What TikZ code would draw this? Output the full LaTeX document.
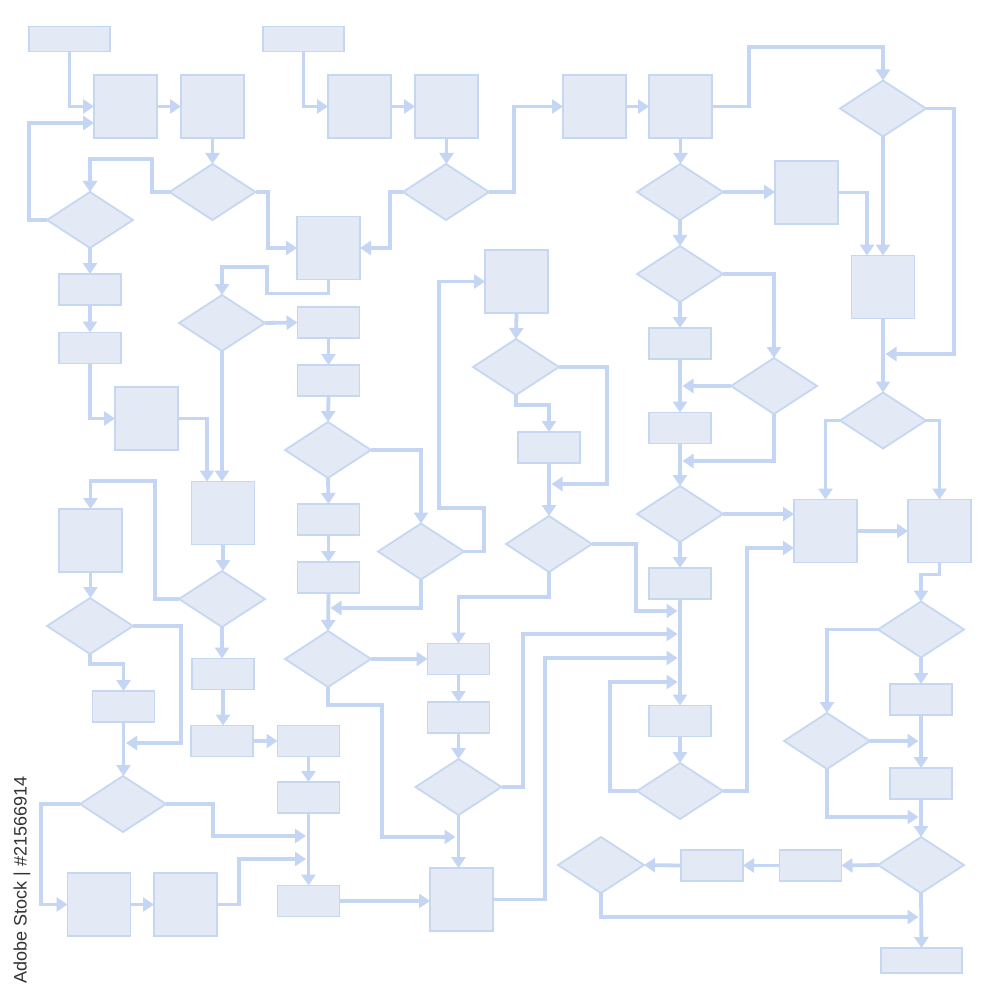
\documentclass[tikz,border=0pt]{standalone}
\usepackage{fontspec}
\newfontfamily\wmfont{Liberation Sans}
\usetikzlibrary{shapes.geometric,arrows.meta,calc}
\definecolor{linec}{HTML}{C4D6F3}
\definecolor{fillc}{HTML}{E4EAF5}
\definecolor{bordc}{HTML}{C6D7F2}
\definecolor{wmc}{HTML}{333333}
\begin{document}
\begin{tikzpicture}[x=1pt,y=-1pt,
  box/.style={draw=bordc,fill=fillc,line width=1.8pt,inner sep=0pt,outer sep=0pt},
  sq/.style={box,minimum width=63pt,minimum height=63pt},
  fbox/.style={box,minimum width=62pt,minimum height=31pt},
  wbox/.style={box,minimum width=81pt,minimum height=25pt},
  dia/.style={box,diamond,minimum width=86pt,minimum height=56pt},
  arr/.style={draw=linec,line width=3.8pt,-{Triangle[length=11pt,width=14pt]}},
  ]
\useasboundingbox[fill=white] (0,0) rectangle (1000,1000);
% ---------- nodes ----------
\node[wbox] (n1) at (69.5,39) {};
\node[wbox] (n2) at (303.5,39) {};
\node[sq] (s1) at (125.5,106.5) {};
\node[sq] (s2) at (212.5,106.5) {};
\node[sq] (s3) at (359.5,106.5) {};
\node[sq] (s4) at (446.5,106.5) {};
\node[sq] (s5) at (594.5,106.5) {};
\node[sq] (s6) at (680.5,106.5) {};
\node[dia] (d1) at (212.5,192) {};
\node[dia] (d2) at (90,220) {};
\node[dia] (d3) at (446,192) {};
\node[dia] (d4) at (883,108.5) {};
\node[dia] (d5) at (680,192) {};
\node[sq] (c1) at (806.5,192.5) {};
\node[sq] (c2) at (883,287) {};
\node[sq] (sS) at (328.5,248) {};
\node[fbox] (r1) at (90,289.5) {};
\node[fbox] (r2) at (90,348) {};
\node[dia] (d6) at (222,323) {};
\node[fbox] (r3) at (328.5,322.5) {};
\node[fbox] (r4) at (328.5,380.5) {};
\node[sq] (b5) at (516.5,281.5) {};
\node[dia] (d7) at (680,274) {};
\node[fbox] (r7) at (680,343.5) {};
\node[dia] (d8) at (774,386) {};
\node[fbox] (r8) at (680,428) {};
\node[dia] (d13) at (516,367) {};
\node[fbox] (r13) at (549,447.5) {};
\node[dia] (d10) at (883,420.5) {};
\node[sq] (f1) at (146.5,418.5) {};
\node[dia] (d15) at (328,450) {};
\node[sq] (f2) at (223,513) {};
\node[sq] (f3) at (90.5,540.5) {};
\node[fbox] (r5) at (328.5,519.5) {};
\node[fbox] (r6) at (328.5,577.5) {};
\node[dia] (d16) at (421,551.5) {};
\node[dia] (d14) at (549,544) {};
\node[dia] (d9) at (680,514) {};
\node[sq] (e1) at (825.5,531) {};
\node[sq] (e2) at (939.5,531) {};
\node[fbox] (r9) at (680,583.5) {};
\node[dia] (d18) at (222,599) {};
\node[dia] (d19) at (90,626) {};
\node[dia] (d11) at (921,629.5) {};
\node[dia] (d17) at (328,659) {};
\node[fbox] (r14) at (458.5,659) {};
\node[fbox] (g2) at (223,674) {};
\node[fbox] (g1) at (123.5,706.5) {};
\node[fbox] (r17) at (921,699.5) {};
\node[fbox] (r15) at (458.5,717.5) {};
\node[fbox] (r16) at (680,721) {};
\node[dia] (d12) at (827,741) {};
\node[fbox] (g3) at (222,741) {};
\node[fbox] (g4) at (308.5,741) {};
\node[fbox] (g5) at (308.5,797.5) {};
\node[fbox] (r18) at (921,783.5) {};
\node[dia] (d21) at (458.5,787) {};
\node[dia] (d23) at (680,791) {};
\node[dia] (d20) at (123,804) {};
\node[sq] (h1) at (99,904.5) {};
\node[sq] (h2) at (185.5,904.5) {};
\node[fbox] (g6) at (308.5,901) {};
\node[sq] (q) at (461.5,899.5) {};
\node[dia] (d22) at (601,865) {};
\node[fbox] (r20) at (712,865.5) {};
\node[fbox] (r19) at (810.5,865.5) {};
\node[dia] (d24) at (921,865) {};
\node[wbox] (fin) at (921.5,960.5) {};
% junction points on connector lines
\coordinate (j1) at (885.5,354);
\coordinate (j2) at (682.5,386);
\coordinate (j3) at (682.5,461);
\coordinate (j4) at (918.5,741);
\coordinate (j5) at (918.5,817);
\coordinate (j6) at (918.5,917);
\coordinate (j7) at (677.5,682);
\coordinate (j8) at (677.5,611);
\coordinate (j9) at (677.5,634);
\coordinate (j10) at (677.5,658);
\coordinate (j11) at (551.5,484);
\coordinate (j12) at (455.5,837);
\coordinate (j13) at (330.5,608);
\coordinate (j14) at (126,743);
\coordinate (j15) at (306,859);
\coordinate (j16) at (306,836);
% ---------- connectors ----------
\draw[arr] (n1.south) |- (s1.west);
\draw[arr] (d2.west) -| (29,123) -- ($(s1.west)+(0,16.5)$);
\draw[arr] (s1.east) -- (s2.west);
\draw[arr] (s2.south) -- (d1.north);
\draw[arr] (d1.west) -- (152,192) -- (152,159) -| (d2.north);
\draw[arr] (d1.east) -- (268,192) |- (sS.west);
\draw[arr] (d2.south) -- (r1.north);
\draw[arr] (r1.south) -- (r2.north);
\draw[arr] (n2.south) |- (s3.west);
\draw[arr] (s3.east) -- (s4.west);
\draw[arr] (s4.south) -- (s4.south |- d3.north);
\draw[arr] (d3.west) -- (390,192) |- (sS.east);
\draw[arr] (d3.east) -- (514,192) |- (s5.west);
\draw[arr] (s5.east) -- (s6.west);
\draw[arr] (s6.east) -- (749,106.5) -- (749,47) -| (d4.north);
\draw[arr] (s6.south) -- (s6.south |- d5.north);
\draw[arr] (d5.east) -- (d5.east -| c1.west);
\draw[arr] (c1.east) -| ($(c2.north)+(-16,0)$);
\draw[arr] (d4.south) -- (c2.north);
\draw[arr] (d4.east) -| (954,354) -- (j1);
\draw[arr] (c2.south) -- (d10.north);
\draw[arr] (d5.south) -- (d7.north);
\draw[arr] (d7.east) -| (d8.north);
\draw[arr] (d7.south) -- (r7.north);
\draw[arr] (r7.south) -- (r8.north);
\draw[arr] (d8.west) -- (j2);
\draw[arr] (d8.south) |- (j3);
\draw[arr] (r8.south) -- (d9.north);
\draw[arr] (d9.east) -- (d9.east -| e1.west);
\draw[arr] (e1.east) -- (e2.west);
\draw[arr] (d10.west) -| (e1.north);
\draw[arr] (d10.east) -| (e2.north);
\draw[arr] (d9.south) -- (r9.north);
\draw[arr] (r9.south) -- (r16.north);
\draw[arr] (e2.south) -- ++(0,12) -| (d11.north);
\draw[arr] (d11.west) -| (d12.north);
\draw[arr] (d11.south) -- (r17.north);
\draw[arr] (r17.south) -- (r18.north);
\draw[arr] (d12.east) -- (j4);
\draw[arr] (d12.south) |- (j5);
\draw[arr] (r18.south) -- (d24.north);
\draw[arr] (d24.west) -- (r19.east);
\draw[arr] (r19.west) -- (r20.east);
\draw[arr] (r20.west) -- (d22.east);
\draw[arr] (d24.south) -- (fin.north);
\draw[arr] (d22.south) |- (j6);
\draw[arr] (r16.south) -- (d23.north);
\draw[arr] (d23.east) -- (747,791) |- ($(e1.west)+(0,17)$);
\draw[arr] (d23.west) -- (610,791) |- (j7);
\draw[arr] (d14.east) -- (636,544) |- (j8);
\draw[arr] (d21.east) -- (523,787) |- (j9);
\draw[arr] (q.east) -- (545,899.5) |- (j10);
\draw[arr] (b5.south) -- (d13.north);
\draw[arr] (d13.east) -- (607,367) |- (j11);
\draw[arr] (d13.south) -- ++(0,10) -| (r13.north);
\draw[arr] (r13.south) -- (d14.north);
\draw[arr] (d14.south) -- ++(0,25) -| (r14.north);
\draw[arr] (r14.south) -- (r15.north);
\draw[arr] (r15.south) -- (d21.north);
\draw[arr] (d21.south) -- (d21.south |- q.north);
\draw[arr] (d17.east) -- (r14.west);
\draw[arr] (d17.south) -- (328,705) -- (382,705) |- (j12);
\draw[arr] (g6.east) -- (g6.east -| q.west);
\draw[arr] (d16.east) -- (484,551.5) -- (484,508) -- (439,508) |- (b5.west);
\draw[arr] (d16.south) -- (421,608) -- (j13);
\draw[arr] (d15.east) -| (d16.north);
\draw[arr] (d6.east) -- (r3.west);
\draw[arr] (r3.south) -- (r4.north);
\draw[arr] (r4.south) -- (d15.north);
\draw[arr] (d15.south) -- (r5.north);
\draw[arr] (r5.south) -- (r6.north);
\draw[arr] (r6.south) -- (d17.north);
\draw[arr] (sS.south) -- (328.5,293.5) -- (267,293.5) -- (267,267) -| (d6.north);
\draw[arr] (d6.south) -- (d6.south |- f2.north);
\draw[arr] (r2.south) |- (f1.west);
\draw[arr] (f1.east) -| ($(f2.north)+(-16,0)$);
\draw[arr] (f2.south) -- (f2.south |- d18.north);
\draw[arr] (d18.west) -- (155,599) -- (155,481) -| (f3.north);
\draw[arr] (f3.south) -- (f3.south |- d19.north);
\draw[arr] (d19.east) -- (181,626) |- (j14);
\draw[arr] (d19.south) -- ++(0,10) -| (g1.north);
\draw[arr] (g1.south) -- (g1.south |- d20.north);
\draw[arr] (d20.west) -- (41,804) |- (h1.west);
\draw[arr] (h1.east) -- (h2.west);
\draw[arr] (h2.east) -- (239,904.5) |- (j15);
\draw[arr] (d20.east) -- (213,804) |- (j16);
\draw[arr] (d18.south) -- (d18.south |- g2.north);
\draw[arr] (g2.south) -- (g2.south |- g3.north);
\draw[arr] (g3.east) -- (g4.west);
\draw[arr] (g4.south) -- (g5.north);
\draw[arr] (g5.south) -- (g6.north);
% ---------- credit text ----------
\node[rotate=90,text=wmc,font=\wmfont\fontsize{18}{20}\selectfont,inner sep=0pt] (wm) at (22,880) {Adobe Stock | \#21566914};
\end{tikzpicture}
\end{document}
